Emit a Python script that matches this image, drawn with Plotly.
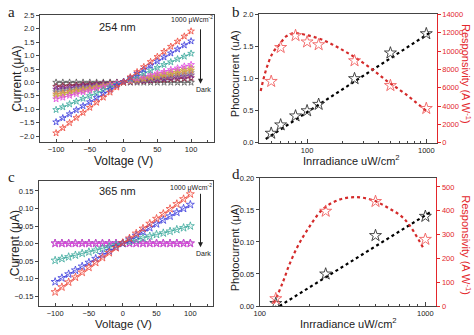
import plotly.graph_objects as go

W, H = 474, 335

# ---------------- Panel a: I-V at 254 nm ----------------
voltage = [-100, -90, -80, -70, -60, -50, -40, -30, -20, -10, 0,
           10, 20, 30, 40, 50, 60, 70, 80, 90, 100]

a_red = [-1.89, -1.70, -1.51, -1.32, -1.13, -0.94, -0.75, -0.56, -0.37, -0.18, 0.01,
         0.20, 0.39, 0.58, 0.77, 0.96, 1.15, 1.34, 1.53, 1.72, 1.91]
a_blue = [-1.48, -1.33, -1.18, -1.03, -0.88, -0.73, -0.57, -0.42, -0.27, -0.12, 0.03,
          0.18, 0.33, 0.48, 0.63, 0.79, 0.94, 1.09, 1.24, 1.39, 1.54]
a_teal = [-1.02, -0.92, -0.81, -0.71, -0.60, -0.50, -0.39, -0.29, -0.18, -0.08, 0.03,
          0.13, 0.24, 0.34, 0.45, 0.55, 0.66, 0.76, 0.87, 0.97, 1.08]
a_magenta = [-0.62, -0.56, -0.49, -0.43, -0.36, -0.30, -0.24, -0.17, -0.11, -0.04, 0.02,
             0.08, 0.15, 0.21, 0.28, 0.34, 0.40, 0.47, 0.53, 0.60, 0.66]
a_olive = [-0.52, -0.47, -0.42, -0.36, -0.31, -0.26, -0.20, -0.15, -0.10, -0.04, 0.01,
           0.06, 0.12, 0.17, 0.22, 0.28, 0.33, 0.38, 0.44, 0.49, 0.54]
a_orange = [-0.44, -0.40, -0.35, -0.31, -0.26, -0.22, -0.17, -0.13, -0.08, -0.04, 0.01,
            0.05, 0.10, 0.14, 0.19, 0.23, 0.28, 0.32, 0.36, 0.41, 0.45]
a_gray = [-0.35, -0.31, -0.28, -0.24, -0.21, -0.17, -0.14, -0.10, -0.07, -0.03, 0.00,
          0.04, 0.07, 0.11, 0.14, 0.18, 0.21, 0.25, 0.29, 0.32, 0.36]
a_purple = [-0.26, -0.23, -0.21, -0.18, -0.15, -0.13, -0.10, -0.07, -0.05, -0.02, 0.00,
            0.03, 0.06, 0.08, 0.11, 0.14, 0.16, 0.19, 0.22, 0.24, 0.27]
a_maroon = [-0.16, -0.14, -0.13, -0.11, -0.09, -0.08, -0.06, -0.04, -0.03, -0.01, 0.00,
            0.02, 0.04, 0.05, 0.07, 0.09, 0.10, 0.12, 0.14, 0.15, 0.17]
a_dark = [0.00, 0.00, 0.00, 0.00, 0.00, 0.00, 0.00, 0.00, 0.00, 0.00, 0.00,
          0.00, 0.00, 0.00, 0.00, 0.00, 0.00, 0.00, 0.00, 0.00, 0.00]

# ---------------- Panel c: I-V at 365 nm ----------------
c_red = [-0.138, -0.124, -0.110, -0.096, -0.082, -0.068, -0.054, -0.040, -0.026, -0.012, 0.002,
         0.015, 0.029, 0.043, 0.057, 0.071, 0.085, 0.099, 0.113, 0.127, 0.141]
c_blue = [-0.109, -0.098, -0.087, -0.076, -0.065, -0.054, -0.043, -0.032, -0.021, -0.010, 0.001,
          0.012, 0.023, 0.034, 0.045, 0.056, 0.067, 0.078, 0.089, 0.100, 0.111]
c_teal = [-0.048, -0.043, -0.038, -0.033, -0.028, -0.024, -0.019, -0.014, -0.009, -0.004, 0.001,
          0.006, 0.011, 0.016, 0.021, 0.026, 0.030, 0.035, 0.040, 0.045, 0.050]
c_purple = [0.001, 0.001, 0.001, 0.001, 0.001, 0.001, 0.001, 0.001, 0.001, 0.001, 0.001,
            0.001, 0.001, 0.001, 0.001, 0.001, 0.001, 0.001, 0.001, 0.001, 0.001]
c_magenta = [0.000, 0.000, 0.000, 0.000, 0.000, 0.000, 0.000, 0.000, 0.000, 0.000, 0.000,
             0.000, 0.000, 0.000, 0.000, 0.000, 0.000, 0.000, 0.000, 0.000, 0.000]

# ---------------- Panel b: 254 nm vs irradiance ----------------
b_irr = [50, 60, 80, 100, 125, 250, 500, 1000]
b_photocurrent = [0.15, 0.28, 0.42, 0.50, 0.60, 1.00, 1.40, 1.70]
b_responsivity = [6700, 10400, 11700, 11000, 10700, 8950, 6250, 3750]
b_fit_pc_x = [45, 1080]
b_fit_pc_y = [0.06, 1.72]
b_fit_r_x = [40.8, 45.5, 51.6, 58.6, 66.6, 78, 97.5, 134, 184, 253, 348, 478, 656, 1000]
b_fit_r_y = [5660, 8060, 9830, 10710, 11600, 11950, 11770, 11240, 10360, 9300, 8060, 6650, 5410, 3470]

# ---------------- Panel d: 365 nm vs irradiance ----------------
d_irr = [125, 250, 500, 1000]
d_photocurrent = [0.004, 0.050, 0.110, 0.140]
d_responsivity = [31, 398, 439, 280]
d_fit_pc_x = [131.6, 1071]
d_fit_pc_y = [0.0, 0.1465]
d_fit_r_x = [121.8, 137.7, 151, 169, 190, 239, 300, 377, 474, 596, 750, 986]
d_fit_r_y = [11, 99, 174, 249, 310, 405, 446, 457, 446, 412, 364, 235]

FONT = "Liberation Sans, Arial, sans-serif"
RED_AX = "#e3262b"
AXC = "#444444"

fig = go.Figure()

a_series = [
    (a_dark, "#555555"), (a_maroon, "#8c1a3c"), (a_purple, "#7a2a9a"),
    (a_gray, "#8a8a8a"), (a_orange, "#e08a3c"), (a_olive, "#c3b043"),
    (a_magenta, "#e048e0"), (a_teal, "#3aa89c"), (a_blue, "#3c3cdc"),
    (a_red, "#ef4a3e"),
]
for ys, col in a_series:
    fig.add_trace(go.Scatter(x=voltage, y=ys, mode="lines+markers",
                             line=dict(color=col, width=0.8),
                             marker=dict(symbol="star-open", size=5, color=col, line=dict(width=0.8)),
                             xaxis="x", yaxis="y", showlegend=False))

c_series = [
    (c_purple, "#7a2a9a"), (c_magenta, "#e048e0"), (c_teal, "#3aa89c"),
    (c_blue, "#3c3cdc"), (c_red, "#ef4a3e"),
]
for ys, col in c_series:
    fig.add_trace(go.Scatter(x=voltage, y=ys, mode="lines+markers",
                             line=dict(color=col, width=0.8),
                             marker=dict(symbol="star-open", size=6, color=col, line=dict(width=0.8)),
                             xaxis="x3", yaxis="y4", showlegend=False))

# Panel b
fig.add_trace(go.Scatter(x=b_fit_pc_x, y=b_fit_pc_y, mode="lines",
                         line=dict(color="black", width=2.2, dash="dot"),
                         xaxis="x2", yaxis="y2", showlegend=False))
fig.add_trace(go.Scatter(x=b_irr, y=b_photocurrent, mode="markers",
                         marker=dict(symbol="star-open", size=9, color="#333333", line=dict(width=0.9)),
                         xaxis="x2", yaxis="y2", showlegend=False))
fig.add_trace(go.Scatter(x=b_fit_r_x, y=b_fit_r_y, mode="lines", line_shape="spline",
                         line=dict(color="#d42a2a", width=2.2, dash="dot"),
                         xaxis="x2", yaxis="y3", showlegend=False))
fig.add_trace(go.Scatter(x=b_irr, y=b_responsivity, mode="markers",
                         marker=dict(symbol="star-open", size=9, color="#f06060", line=dict(width=0.9)),
                         xaxis="x2", yaxis="y3", showlegend=False))

# Panel d
fig.add_trace(go.Scatter(x=d_fit_pc_x, y=d_fit_pc_y, mode="lines",
                         line=dict(color="black", width=2.2, dash="dot"),
                         xaxis="x4", yaxis="y5", showlegend=False))
fig.add_trace(go.Scatter(x=d_irr, y=d_photocurrent, mode="markers",
                         marker=dict(symbol="star-open", size=9, color="#333333", line=dict(width=0.9)),
                         xaxis="x4", yaxis="y5", showlegend=False))
fig.add_trace(go.Scatter(x=d_fit_r_x, y=d_fit_r_y, mode="lines", line_shape="spline",
                         line=dict(color="#d42a2a", width=2.2, dash="dot"),
                         xaxis="x4", yaxis="y6", showlegend=False))
fig.add_trace(go.Scatter(x=d_irr, y=d_responsivity, mode="markers",
                         marker=dict(symbol="star-open", size=9, color="#f06060", line=dict(width=0.9)),
                         xaxis="x4", yaxis="y6", showlegend=False))

tickfont = dict(family=FONT, size=7.5, color="#222222")
redtick = dict(family=FONT, size=7.5, color=RED_AX)

def lin_x(domain, anchor):
    return dict(domain=domain, anchor=anchor, range=[-124, 134],
                tickvals=[-100, -50, 0, 50, 100], ticks="inside", ticklen=3,
                minor=dict(ticks="inside", ticklen=2, tickvals=[-75, -25, 25, 75, 125], tickcolor=AXC),
                showline=True, linecolor=AXC, linewidth=1, mirror=True,
                showgrid=False, zeroline=False, tickfont=tickfont, tickcolor=AXC)

def log_x(domain, anchor, rng):
    minors = [40, 50, 60, 70, 80, 90, 200, 300, 400, 500, 600, 700, 800, 900]
    return dict(domain=domain, anchor=anchor, type="log", range=rng,
                tickvals=[100, 1000], ticktext=["100", "1000"], ticks="inside", ticklen=4,
                minor=dict(ticks="inside", ticklen=2, tickmode="array", tickvals=minors, tickcolor=AXC),
                showline=True, linecolor=AXC, linewidth=1, mirror=True,
                showgrid=False, zeroline=False, tickfont=tickfont, tickcolor=AXC)

def px_x(p):
    return p / W

def px_y(p):
    return 1 - p / H

fig.update_layout(
    width=W, height=H, margin=dict(l=0, r=0, t=0, b=0),
    paper_bgcolor="white", plot_bgcolor="white",
    font=dict(family=FONT),
    xaxis=lin_x([0.0724, 0.4445], "y"),
    yaxis=dict(domain=[0.577, 0.965], anchor="x", range=[-2.22, 2.5],
               tickvals=[-2.0, -1.5, -1.0, -0.5, 0.0, 0.5, 1.0, 1.5, 2.0, 2.5],
               tickformat=".1f", ticks="outside", ticklen=3,
               showline=True, linecolor=AXC, linewidth=1, mirror=True,
               showgrid=False, zeroline=False, tickfont=tickfont, tickcolor=AXC),
    xaxis3=lin_x([0.0703, 0.443], "y4"),
    yaxis4=dict(domain=[0.0735, 0.4567], anchor="x3", range=[-0.178, 0.178],
                tickvals=[-0.15, -0.10, -0.05, 0.0, 0.05, 0.10, 0.15],
                tickformat=".2f", ticks="outside", ticklen=3,
                showline=True, linecolor=AXC, linewidth=1, mirror=True,
                showgrid=False, zeroline=False, tickfont=tickfont, tickcolor=AXC),
    xaxis2=log_x([0.5407, 0.9205], "y2", [1.597, 3.088]),
    yaxis2=dict(domain=[0.574, 0.968], anchor="x2", range=[0, 2.0],
                tickvals=[0, 0.5, 1.0, 1.5, 2.0], tickformat=".1f",
                ticks="outside", ticklen=3, showline=True, linecolor=AXC, linewidth=1,
                showgrid=False, zeroline=False, tickfont=tickfont, tickcolor=AXC),
    yaxis3=dict(overlaying="y2", side="right", anchor="x2", range=[0, 14000],
                tickvals=[0, 2000, 4000, 6000, 8000, 10000, 12000, 14000], tickformat="d",
                ticks="outside", ticklen=3, showline=True, linecolor=RED_AX, linewidth=1,
                showgrid=False, zeroline=False, tickfont=redtick, tickcolor=RED_AX),
    xaxis4=log_x([0.5422, 0.9198], "y5", [2.0, 3.067]),
    yaxis5=dict(domain=[0.0735, 0.4666], anchor="x4", range=[0, 0.2],
                tickvals=[0, 0.05, 0.10, 0.15, 0.20], tickformat=".2f",
                ticks="outside", ticklen=3, showline=True, linecolor=AXC, linewidth=1,
                showgrid=False, zeroline=False, tickfont=tickfont, tickcolor=AXC),
    yaxis6=dict(overlaying="y5", side="right", anchor="x4", range=[0, 538],
                tickvals=[0, 100, 200, 300, 400, 500], tickformat="d",
                ticks="outside", ticklen=3, showline=True, linecolor=RED_AX, linewidth=1,
                showgrid=False, zeroline=False, tickfont=redtick, tickcolor=RED_AX),
)

ann = []
def text(x, y, s, size=11, color="#222222", angle=0, family=FONT, xanchor="center"):
    ann.append(dict(x=px_x(x), y=px_y(y), xref="paper", yref="paper", text=s,
                    showarrow=False, textangle=angle, xanchor=xanchor, yanchor="middle",
                    font=dict(family=family, size=size, color=color)))

LET = "Liberation Serif, Times New Roman, serif"
text(6, 8, "a", 15, "#222", family=LET)
text(233, 8, "b", 15, "#222", family=LET)
text(6, 178, "c", 15, "#222", family=LET)
text(233, 175, "d", 15, "#222", family=LET)

# panel a
text(119, 161, "Voltage (V)", 12)
text(11, 77, "Current (μA)", 12, angle=-90)
text(113, 24, "254 nm", 11)
text(188, 16, "1000 μWcm<sup>-2</sup>", 7)
text(200, 88, "Dark", 7)
# panel c
text(119, 328.5, "Voltage (V)", 11.5)
text(10, 246, "Current (μA)", 12, angle=-90)
text(113, 192, "365 nm", 11)
text(187, 189, "1000 μWcm<sup>-2</sup>", 7)
text(200, 256, "Dark", 7)
# panel b
text(350, 160, "Inrradiance uW/cm<sup>2</sup>", 11)
text(232, 72, "Photocurrent (uA)", 11, angle=-90)
text(466, 72, "Responsivity (A W<sup>-1</sup>)", 11, color=RED_AX, angle=90)
# panel d
text(347, 328, "Inrradiance uW/cm<sup>2</sup>", 11)
text(232, 251, "Photocurrent (μA)", 11, angle=-90)
text(466, 248, "Responsivity (A W<sup>-1</sup>)", 11, color=RED_AX, angle=90)

# arrows
for (x0, y0, y1) in [(197, 26, 82), (197, 195, 250)]:
    ann.append(dict(x=px_x(x0), y=px_y(y1), xref="paper", yref="paper",
                    ax=0, ay=-(y1 - y0), axref="pixel", ayref="pixel", text="",
                    showarrow=True, arrowhead=2, arrowsize=1, arrowwidth=1, arrowcolor="#222"))

fig.update_layout(annotations=ann)
fig.write_html("out.html")
